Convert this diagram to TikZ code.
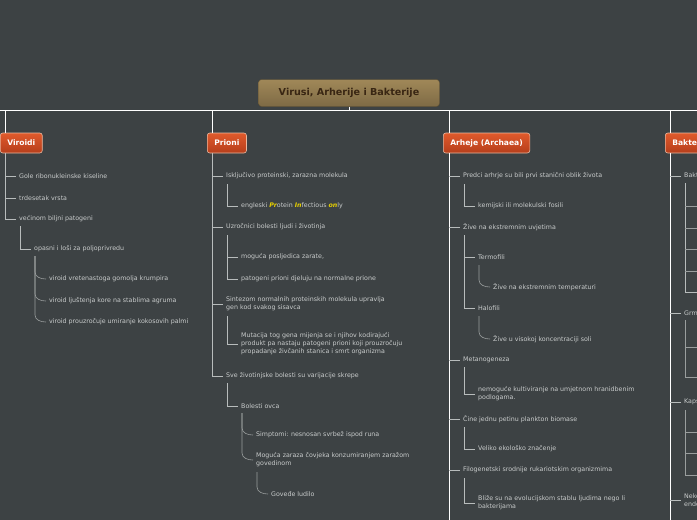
\documentclass[tikz,border=0pt]{standalone}
\usepackage{fontspec}
\setmainfont{DejaVu Sans}
\definecolor{bg}{HTML}{3D4244}
\definecolor{txt}{HTML}{C9CCCC}
\definecolor{orange1}{HTML}{E05A2C}
\definecolor{orange2}{HTML}{B63E1B}
\definecolor{boxedge}{HTML}{E8B8A0}
\definecolor{lin1}{HTML}{B8BCBC}
\definecolor{lin2}{HTML}{9A9E9E}
\definecolor{yel}{HTML}{E8D000}
\definecolor{gold1}{HTML}{A08858}
\definecolor{gold2}{HTML}{7E6A45}
\newcommand{\curv}[2]{\draw[l2] (#1) -- ([yshift=7pt]#2.west -| #1) to[out=-90,in=180] ([xshift=-3pt]#2.west);}
\newcommand{\sqr}[3]{\draw[#3] (#1) |- ([xshift=-3pt]#2.west);}
\begin{document}
\begin{tikzpicture}[x=1pt,y=-1pt,
  every node/.style={inner sep=0pt},
  lbl/.style={anchor=west,text=txt,font=\fontsize{6.3}{8}\selectfont,align=left},
  topbox/.style={draw=boxedge,line width=0.6pt,rounded corners=2.5pt,top color=orange1,bottom color=orange2,text=white,font=\fontsize{7.6}{8}\bfseries\selectfont,minimum height=20pt,inner xsep=7pt},
  trunk/.style={draw=white,line width=1pt},
  l1/.style={draw=lin1,line width=0.6pt},
  l2/.style={draw=lin2,line width=0.6pt}]
\useasboundingbox (0,0) rectangle (697,520);
\fill[bg] (0,0) rectangle (697,520);
\clip (0,0) rectangle (697,520);
% title
\node[draw=gold2!70!black,rounded corners=3pt,top color=gold1,bottom color=gold2,text=brown!30!black,font=\fontsize{9.6}{11}\bfseries\selectfont,minimum width=181pt,minimum height=27pt] (root) at (349,93) {Virusi, Arherije i Bakterije};
\coordinate (bar) at (349,110);
\draw[trunk] (root.south) -- (bar);
\draw[trunk] (0,110) -- (697,110);
% top boxes
\node[topbox,anchor=west] (vir) at (0,143) {Viroidi};
\node[topbox,anchor=west] (pri) at (207,143) {Prioni};
\node[topbox,anchor=west] (arh) at (443,143) {Arheje (Archaea)};
\node[topbox,anchor=west] (bak) at (665,143) {Bakterije};
\coordinate (tv) at (5,110); \coordinate (tp) at (212,110);
\coordinate (ta) at (449,110); \coordinate (tb) at (670,110);
\draw[trunk] (tv) -- (tv |- vir.north);
\draw[trunk] (tp) -- (tp |- pri.north);
\draw[trunk] (ta) -- (ta |- arh.north);
\draw[trunk] (tb) -- (tb |- bak.north);
% ---- Viroidi
\node[lbl] (v1) at (19,176) {Gole ribonukleinske kiseline};
\node[lbl] (v2) at (19,198) {trdesetak vrsta};
\node[lbl] (v3) at (19,219) {većinom biljni patogeni};
\node[lbl] (v31) at (34,249) {opasni i loši za poljoprivredu};
\node[lbl] (v311) at (49,279) {viroid vretenastoga gomolja krumpira};
\node[lbl] (v312) at (49,301) {viroid ljuštenja kore na stablima agruma};
\node[lbl] (v313) at (49,322) {viroid prouzročuje umiranje kokosovih palmi};
\coordinate (cv0) at (5,153);
\sqr{cv0}{v3}{l1}
\draw[l1] (cv0 |- v1.west) -- ([xshift=-3pt]v1.west);
\draw[l1] (cv0 |- v2.west) -- ([xshift=-3pt]v2.west);
\coordinate (cv1) at (20,226); \sqr{cv1}{v31}{l1}
\coordinate (cv2) at (35,256);
\curv{cv2}{v311}\curv{cv2}{v312}\curv{cv2}{v313}
% ---- Prioni
\node[lbl] (p1) at (226,176) {Isključivo proteinski, zarazna molekula};
\node[lbl] (p11) at (241,206) {engleski \textcolor{yel}{\bfseries\itshape Pr}otein \textcolor{yel}{\bfseries\itshape In}fectious \textcolor{yel}{\bfseries\itshape on}ly};
\node[lbl] (p2) at (226,227) {Uzročnici bolesti ljudi i životinja};
\node[lbl] (p21) at (241,257) {moguća posljedica zarate,};
\node[lbl] (p22) at (241,279) {patogeni prioni djeluju na normalne prione};
\node[lbl] (p3) at (226,304) {Sintezom normalnih proteinskih molekula upravlja\\gen kod svakog sisavca};
\node[lbl] (p31) at (241,344) {Mutacija tog gena mijenja se i njihov kodirajući\\produkt pa nastaju patogeni prioni koji prouzročuju\\propadanje živčanih stanica i smrt organizma};
\node[lbl] (p4) at (226,376) {Sve životinjske bolesti su varijacije skrepe};
\node[lbl] (p41) at (241,406) {Bolesti ovca};
\node[lbl] (p411) at (256,435) {Simptomi: nesnosan svrbež ispod runa};
\node[lbl] (p412) at (256,460) {Moguća zaraza čovjeka konzumiranjem zaražom\\govedinom};
\node[lbl] (p4121) at (271,494) {Goveđe ludilo};
\coordinate (cp0) at (212,153);
\sqr{cp0}{p4}{l1}
\foreach \t in {p1,p2,p3} \draw[l1] (cp0 |- \t.west) -- ([xshift=-3pt]\t.west);
\coordinate (cp1) at (227,184); \sqr{cp1}{p11}{l1}
\coordinate (cp2) at (227,235); \sqr{cp2}{p22}{l1}
\draw[l1] (cp2 |- p21.west) -- ([xshift=-3pt]p21.west);
\coordinate (cp3) at (227,316); \sqr{cp3}{p31}{l1}
\coordinate (cp4) at (227,383); \sqr{cp4}{p41}{l1}
\coordinate (cp5) at (242,413); \curv{cp5}{p411}\curv{cp5}{p412}
\coordinate (cp6) at (257,472); \curv{cp6}{p4121}
% ---- Arheje
\node[lbl] (a1) at (463,176) {Predci arhrje su bili prvi stanični oblik života};
\node[lbl] (a11) at (478,206) {kemijski ili molekulski fosili};
\node[lbl] (a2) at (463,227) {Žive na ekstremnim uvjetima};
\node[lbl] (a21) at (478,257) {Termofili};
\node[lbl] (a211) at (493,287) {Žive na ekstremnim temperaturi};
\node[lbl] (a22) at (478,308) {Halofili};
\node[lbl] (a221) at (493,339) {Žive u visokoj koncentraciji soli};
\node[lbl] (a3) at (463,360) {Metanogeneza};
\node[lbl] (a31) at (478,394) {nemoguće kultiviranje na umjetnom hranidbenim\\podlogama.};
\node[lbl] (a4) at (463,419) {Čine jednu petinu plankton biomase};
\node[lbl] (a41) at (478,449) {Veliko ekološko značenje};
\node[lbl] (a5) at (463,470) {Filogenetski srodnije rukariotskim organizmima};
\node[lbl] (a51) at (478,503) {Bliže su na evolucijskom stablu ljudima nego li\\bakterijama};
\coordinate (ca0) at (449,153); \coordinate (caend) at (449,520);
\draw[trunk] (ca0) -- (caend);
\foreach \t in {a1,a2,a3,a4,a5} \draw[l1] (ca0 |- \t.west) -- ([xshift=-3pt]\t.west);
\coordinate (ca1) at (464,184); \sqr{ca1}{a11}{l1}
\coordinate (ca2) at (464,235); \sqr{ca2}{a22}{l1}
\draw[l1] (ca2 |- a21.west) -- ([xshift=-3pt]a21.west);
\coordinate (ca3) at (479,265); \curv{ca3}{a211}
\coordinate (ca4) at (479,316); \curv{ca4}{a221}
\coordinate (ca5) at (464,367); \sqr{ca5}{a31}{l1}
\coordinate (ca6) at (464,427); \sqr{ca6}{a41}{l1}
\coordinate (ca7) at (464,478); \sqr{ca7}{a51}{l1}
% ---- Bakterije
\node[lbl] (b1) at (684,176) {Bakterije};
\node[lbl] (b2) at (684,313) {Grm};
\node[lbl] (b3) at (684,402) {Kapsula};
\node[lbl] (b4) at (684,500) {Neke\\endo};
\coordinate (cb0) at (670,153); \coordinate (cbend) at (670,520);
\draw[trunk] (cb0) -- (cbend);
\foreach \t in {b1,b2,b3,b4} \draw[l1] (cb0 |- \t.west) -- ([xshift=-3pt]\t.west);
\coordinate (cb1) at (685,183); \coordinate (cb1e) at (697,292);
\draw[l1] (cb1) |- (cb1e);
\foreach \y in {206,228,249,271} \draw[l2] (685,\y) -- (697,\y);
\coordinate (cb2) at (685,320); \coordinate (cb2e) at (697,377);
\draw[l2] (cb2) |- (cb2e); \draw[l2] (685,347) -- (697,347);
\coordinate (cb3) at (685,410); \coordinate (cb3e) at (697,475);
\draw[l2] (cb3) |- (cb3e);
\foreach \y in {432,453} \draw[l2] (685,\y) -- (697,\y);
\end{tikzpicture}
\end{document}
